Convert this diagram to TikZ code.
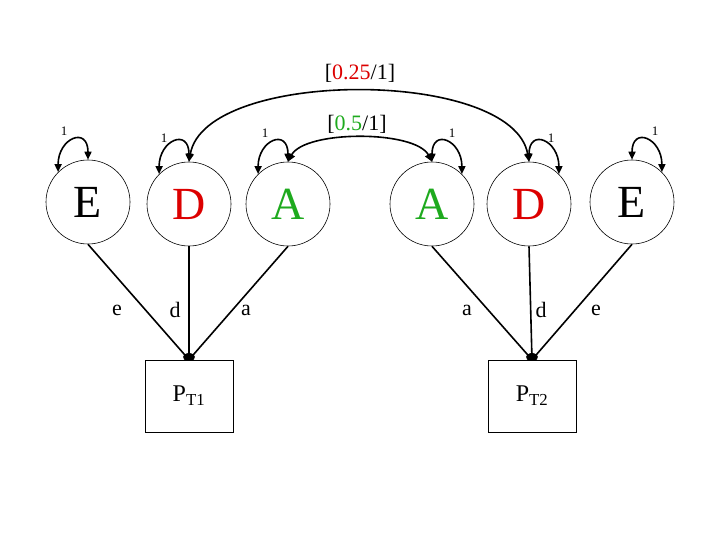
\documentclass[tikz,border=0pt]{standalone}
\usepackage{fontspec}
\setmainfont{Liberation Serif}
\usetikzlibrary{arrows.meta}
\definecolor{myred}{RGB}{220,0,0}
\definecolor{mygreen}{RGB}{30,170,30}
\begin{document}
\begin{tikzpicture}[x=1pt,y=-1pt,
 lat/.style={circle,draw,line width=0.6pt,minimum size=84pt,inner sep=0pt,font=\fontsize{46}{46}\selectfont},
 obs/.style={draw,line width=0.6pt,minimum width=88pt,minimum height=72pt,font=\fontsize{24}{24}\selectfont},
 path/.style={line width=1.6pt,-{Circle[length=7pt]}},
 cov/.style={line width=1.6pt,{Triangle[length=8pt,width=7pt]}-{Triangle[length=8pt,width=7pt]}},
 lab/.style={font=\fontsize{22}{22}\selectfont},
 one/.style={font=\fontsize{13}{13}\selectfont}]
\useasboundingbox (0,0) rectangle (720,540);
\node[lat] (E1) at (88,202) {E};
\node[lat,text=myred] (D1) at (189,204) {D};
\node[lat,text=mygreen] (A1) at (288,204) {A};
\node[lat,text=mygreen] (A2) at (432,204) {A};
\node[lat,text=myred] (D2) at (529,204) {D};
\node[lat] (E2) at (632,202) {E};
\node[obs] (P1) at (189,396) {P\textsubscript{T1}};
\node[obs] (P2) at (532,396) {P\textsubscript{T2}};
\draw[path] (E1.south) -- (P1.north);
\draw[path] (D1.south) -- (P1.north);
\draw[path] (A1.south) -- (P1.north);
\draw[path] (A2.south) -- (P2.north);
\draw[path] (D2.south) -- (P2.north);
\draw[path] (E2.south) -- (P2.north);
\node[lab] (le1) at (117,310) {e};
\node[lab] (ld1) at (175,310) {d};
\node[lab] (la1) at (246,310) {a};
\node[lab] (la2) at (467,310) {a};
\node[lab] (ld2) at (541,310) {d};
\node[lab] (le2) at (596,310) {e};
% self loops
\foreach \n in {E1,D1,A1}{
 \draw[cov] (\n.135) .. controls ([yshift=34pt]\n.135) and ([yshift=34pt]\n.90) .. (\n.90);}
\foreach \n in {A2,D2,E2}{
 \draw[cov] (\n.90) .. controls ([yshift=34pt]\n.90) and ([yshift=34pt]\n.45) .. (\n.45);}
\node[one] (o1) at (64,131) {1};
\node[one] (o2) at (164,138) {1};
\node[one] (o3) at (265,133) {1};
\node[one] (o4) at (452,133) {1};
\node[one] (o5) at (551,138) {1};
\node[one] (o6) at (655,131) {1};
% covariances
\draw[cov] (D1.90) .. controls (205,68) and (513,68) .. (D2.90);
\draw[cov] (A1.90) .. controls (305,130) and (415,130) .. (A2.90);
\node[lab] (c1) at (360,73) {[\textcolor{myred}{0.25}/1]};
\node[lab] (c2) at (357,124) {[\textcolor{mygreen}{0.5}/1]};
\end{tikzpicture}
\end{document}
